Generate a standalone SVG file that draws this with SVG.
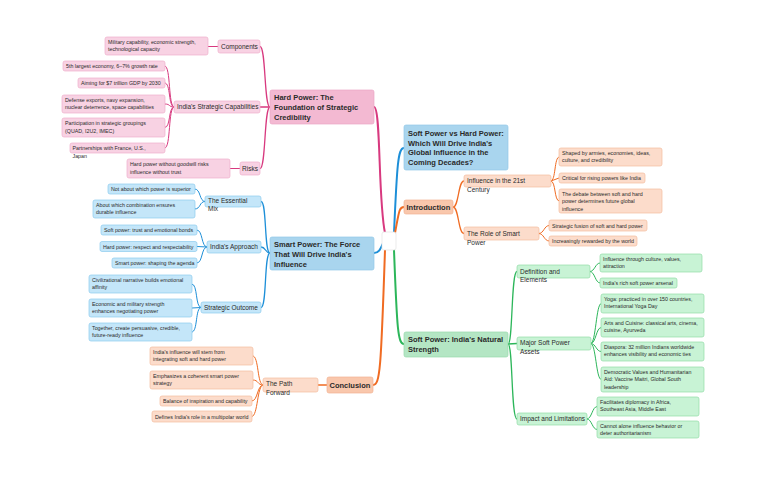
<svg xmlns="http://www.w3.org/2000/svg" width="768" height="489" viewBox="0 0 768 489">
<style>
text{font-family:"Liberation Sans",Arial,sans-serif;fill:#2a2a2a}
.lf{font-size:5.3px}
.sb{font-size:6.5px}
.mn{font-size:7.5px;font-weight:bold}
rect{rx:2;ry:2;stroke-width:0.7}
.pm{fill:#f3b9d2;stroke:#eba6c5}
.pl{fill:#f8d2e3;stroke:#efb0cc}
.bm{fill:#a9d5ee;stroke:#92c8e8}
.bbl{fill:#c4e6f9;stroke:#8dcbee}
.om{fill:#f9c7ac;stroke:#f2b394}
.ol{fill:#fcdccb;stroke:#f4bd9f}
.gm{fill:#b4e6c4;stroke:#98d9ad}
.gl{fill:#c8f3d5;stroke:#92dca8}
.c{fill:none;stroke-linecap:round}
.cp{stroke:#d8397f}
.cb{stroke:#1d8fd8}
.co{stroke:#f06b22}
.cg{stroke:#2cb65a}
.w2{stroke-width:2}
.w1{stroke-width:1.3}
.w0{stroke-width:1}
</style>

<g id="connectors">
<!-- center to main -->
<path class="c cp w2" d="M374,107 C381,107 378,200 385,233"/>
<path class="c cb w2" d="M384,241 C380,250 379,253 374,253"/>
<path class="c co w2" d="M385,250 C381,370 380,385 373,385"/>
<path class="c cb w2" d="M394,233 C397,165 398,148 404,148"/>
<path class="c co w2" d="M395,233 C399,212 399,207 404,207"/>
<path class="c cg w2" d="M394,250 C397,330 398,344 404,344"/>
<!-- hard power -->
<path class="c cp w1" d="M270,107 C264,107 266,46.5 260,46.5"/>
<path class="c cp w1" d="M270,107 L260,107"/>
<path class="c cp w1" d="M270,107 C264,107 266,168.5 260,168.5"/>
<path class="c cp w0" d="M218,46.5 L208,46.5"/>
<path class="c cp w0" d="M174,107 C168,107 171,66 165,66"/>
<path class="c cp w0" d="M174,107 C168,107 171,83 165,83"/>
<path class="c cp w0" d="M174,107 C168,107 171,104 165,104"/>
<path class="c cp w0" d="M174,107 C168,107 171,127.5 165,127.5"/>
<path class="c cp w0" d="M174,107 C168,107 171,148 165,148"/>
<path class="c cp w0" d="M240,168.5 L230,168.5"/>
<!-- smart power -->
<path class="c cb w1" d="M270,253 C264,253 267,201.5 261,201.5"/>
<path class="c cb w1" d="M270,253 C265,253 266,247 261,247"/>
<path class="c cb w1" d="M270,253 C264,253 267,307.5 261,307.5"/>
<path class="c cb w0" d="M205,201.5 C199,201.5 201,189 195,189"/>
<path class="c cb w0" d="M205,201.5 C199,201.5 201,209 195,209"/>
<path class="c cb w0" d="M207,247 C201,247 203,230 197,230"/>
<path class="c cb w0" d="M207,247 L197,246.5"/>
<path class="c cb w0" d="M207,247 C201,247 203,263 197,263"/>
<path class="c cb w0" d="M201,307.5 C195,307.5 198,284 192,284"/>
<path class="c cb w0" d="M201,307.5 L192,308"/>
<path class="c cb w0" d="M201,307.5 C195,307.5 198,332 192,332"/>
<!-- conclusion -->
<path class="c co w1" d="M327,385 L318,385"/>
<path class="c co w0" d="M263,385 C257,385 259,356 253,356"/>
<path class="c co w0" d="M263,385 C257,385 259,380 253,380"/>
<path class="c co w0" d="M263,385 C257,385 258,401 252,401"/>
<path class="c co w0" d="M263,385 C257,385 258,416.5 252,416.5"/>
<!-- introduction -->
<path class="c co w1" d="M453,207 C459,207 458,181 464,181"/>
<path class="c co w1" d="M453,207 C459,207 458,233.5 464,233.5"/>
<path class="c co w0" d="M551,181 C556,181 554,157 559,157"/>
<path class="c co w0" d="M551,181 L559,178"/>
<path class="c co w0" d="M551,181 C556,181 554,201 559,201"/>
<path class="c co w0" d="M539,233.5 C544,233.5 544,225.5 549,225.5"/>
<path class="c co w0" d="M539,233.5 C544,233.5 544,241 549,241"/>
<!-- soft power -->
<path class="c cg w1" d="M508,344 C513,344 511,271.5 517,271.5"/>
<path class="c cg w1" d="M508,344 L517,343.5"/>
<path class="c cg w1" d="M508,344 C513,344 511,419 517,419"/>
<path class="c cg w0" d="M590,271.5 C595,271.5 595,263 600,263"/>
<path class="c cg w0" d="M590,271.5 C595,271.5 595,283 600,283"/>
<path class="c cg w0" d="M591,343.5 C596,343.5 596,303.5 601,303.5"/>
<path class="c cg w0" d="M591,343.5 C596,343.5 596,327.5 601,327.5"/>
<path class="c cg w0" d="M591,343.5 C596,343.5 596,351.5 601,351.5"/>
<path class="c cg w0" d="M591,343.5 C596,343.5 596,379.5 601,379.5"/>
<path class="c cg w0" d="M587,419 C592,419 592,406.5 597,406.5"/>
<path class="c cg w0" d="M587,419 C592,419 592,429.5 597,429.5"/>
</g>

<g id="center"><rect x="382" y="232" width="14" height="18" style="fill:#ffffff;stroke:#e2e2e2"/></g>

<g id="hard-power"><rect class="pm" x="270" y="90" width="104" height="34"/>
<text class="mn" x="274" y="99.5">Hard Power: The</text><text class="mn" x="274" y="109.8">Foundation of Strategic</text><text class="mn" x="274" y="120">Credibility</text></g>
<g id="components"><rect class="pl" x="218" y="40" width="42" height="13"/><text class="sb" x="221" y="49">Components</text></g>
<g id="components-leaf"><rect class="pl" x="105" y="37" width="103" height="18"/><text class="lf" x="108" y="43.8">Military capability, economic strength,</text><text class="lf" x="108" y="51.4">technological capacity</text></g>
<g id="isc"><rect class="pl" x="174" y="101" width="86" height="12"/><text class="sb" x="177" y="109.3">India's Strategic Capabilities</text></g>
<g id="isc-1"><rect class="pl" x="63" y="61" width="102" height="10"/><text class="lf" x="66" y="68">5th largest economy, 6–7% growth rate</text></g>
<g id="isc-2"><rect class="pl" x="78" y="78" width="87" height="10"/><text class="lf" x="81" y="85">Aiming for $7 trillion GDP by 2030</text></g>
<g id="isc-3"><rect class="pl" x="62" y="95" width="103" height="18"/><text class="lf" x="65" y="101.8">Defense exports, navy expansion,</text><text class="lf" x="65" y="109.4">nuclear deterrence, space capabilities</text></g>
<g id="isc-4"><rect class="pl" x="62" y="118" width="103" height="19"/><text class="lf" x="65" y="125">Participation in strategic groupings</text><text class="lf" x="65" y="132.6">(QUAD, I2U2, IMEC)</text></g>
<g id="isc-5"><rect class="pl" x="70" y="143" width="95" height="10"/><text class="lf" x="72.5" y="150">Partnerships with France, U.S.,</text><text class="lf" x="72.5" y="157.6">Japan</text></g>
<g id="risks"><rect class="pl" x="240" y="162" width="20" height="13"/><text class="sb" x="242" y="171">Risks</text></g>
<g id="risks-leaf"><rect class="pl" x="127" y="159" width="103" height="19"/><text class="lf" x="130" y="166">Hard power without goodwill risks</text><text class="lf" x="130" y="173.6">influence without trust</text></g>

<g id="smart-power"><rect class="bm" x="270" y="237" width="104" height="33"/>
<text class="mn" x="274" y="247">Smart Power: The Force</text><text class="mn" x="274" y="257">That Will Drive India's</text><text class="mn" x="274" y="267">Influence</text></g>
<g id="essential-mix"><rect class="bbl" x="205" y="196" width="56" height="11"/><text class="sb" x="208" y="203.2">The Essential</text><text class="sb" x="208" y="211">Mix</text></g>
<g id="em-1"><rect class="bbl" x="108" y="184" width="87" height="10"/><text class="lf" x="111" y="191">Not about which power is superior</text></g>
<g id="em-2"><rect class="bbl" x="93" y="200" width="102" height="18"/><text class="lf" x="96" y="206.8">About which combination ensures</text><text class="lf" x="96" y="214.4">durable influence</text></g>
<g id="approach"><rect class="bbl" x="207" y="241" width="54" height="12"/><text class="sb" x="210" y="249.3">India's Approach</text></g>
<g id="ap-1"><rect class="bbl" x="101" y="225" width="96" height="10"/><text class="lf" x="104" y="232">Soft power: trust and emotional bonds</text></g>
<g id="ap-2"><rect class="bbl" x="100" y="241.5" width="97" height="10"/><text class="lf" x="103" y="248.5">Hard power: respect and respectability</text></g>
<g id="ap-3"><rect class="bbl" x="112" y="258" width="85" height="10"/><text class="lf" x="115" y="265">Smart power: shaping the agenda</text></g>
<g id="outcome"><rect class="bbl" x="201" y="302" width="60" height="11"/><text class="sb" x="204" y="309.8">Strategic Outcome</text></g>
<g id="oc-1"><rect class="bbl" x="89" y="275" width="103" height="18"/><text class="lf" x="92" y="281.8">Civilizational narrative builds emotional</text><text class="lf" x="92" y="289.4">affinity</text></g>
<g id="oc-2"><rect class="bbl" x="89" y="299" width="103" height="18"/><text class="lf" x="92" y="305.8">Economic and military strength</text><text class="lf" x="92" y="313.4">enhances negotiating power</text></g>
<g id="oc-3"><rect class="bbl" x="89" y="323" width="103" height="18"/><text class="lf" x="92" y="329.8">Together, create persuasive, credible,</text><text class="lf" x="92" y="337.4">future-ready influence</text></g>

<g id="conclusion"><rect class="om" x="327" y="377" width="46" height="16"/><text class="mn" x="329.5" y="388">Conclusion</text></g>
<g id="path-forward"><rect class="ol" x="263" y="378" width="55" height="14"/><text class="sb" x="266" y="385.5">The Path</text><text class="sb" x="266" y="395">Forward</text></g>
<g id="pf-1"><rect class="ol" x="150" y="347" width="103" height="18"/><text class="lf" x="153" y="353.8">India's influence will stem from</text><text class="lf" x="153" y="361.4">integrating soft and hard power</text></g>
<g id="pf-2"><rect class="ol" x="150" y="371" width="103" height="18"/><text class="lf" x="153" y="377.8">Emphasizes a coherent smart power</text><text class="lf" x="153" y="385.4">strategy</text></g>
<g id="pf-3"><rect class="ol" x="160" y="396" width="92" height="10"/><text class="lf" x="163" y="403">Balance of inspiration and capability</text></g>
<g id="pf-4"><rect class="ol" x="152" y="411" width="100" height="11"/><text class="lf" x="155" y="418.5">Defines India's role in a multipolar world</text></g>

<g id="title"><rect class="bm" x="404" y="125" width="104" height="45"/>
<text class="mn" x="408" y="136">Soft Power vs Hard Power:</text><text class="mn" x="408" y="145.7">Which Will Drive India's</text><text class="mn" x="408" y="155.4">Global Influence in the</text><text class="mn" x="408" y="165">Coming Decades?</text></g>

<g id="introduction"><rect class="om" x="404" y="200" width="49" height="14"/><text class="mn" x="406.5" y="209.8">Introduction</text></g>
<g id="influence-21"><rect class="ol" x="464" y="175" width="87" height="12"/><text class="sb" x="467" y="183">Influence in the 21st</text><text class="sb" x="467" y="191.5">Century</text></g>
<g id="in-1"><rect class="ol" x="559" y="148" width="103" height="18"/><text class="lf" x="562" y="154.8">Shaped by armies, economies, ideas,</text><text class="lf" x="562" y="162.4">culture, and credibility</text></g>
<g id="in-2"><rect class="ol" x="559" y="173" width="86" height="10"/><text class="lf" x="562" y="180">Critical for rising powers like India</text></g>
<g id="in-3"><rect class="ol" x="559" y="189" width="103" height="24"/><text class="lf" x="562" y="195.5">The debate between soft and hard</text><text class="lf" x="562" y="203">power determines future global</text><text class="lf" x="562" y="210.5">influence</text></g>
<g id="role-smart"><rect class="ol" x="464" y="227" width="75" height="13"/><text class="sb" x="467" y="235.5">The Role of Smart</text><text class="sb" x="467" y="244.5">Power</text></g>
<g id="rs-1"><rect class="ol" x="549" y="220" width="98" height="11"/><text class="lf" x="552" y="227.5">Strategic fusion of soft and hard power</text></g>
<g id="rs-2"><rect class="ol" x="549" y="236" width="88" height="10"/><text class="lf" x="552" y="243">Increasingly rewarded by the world</text></g>

<g id="soft-power"><rect class="gm" x="404" y="332" width="104" height="25"/><text class="mn" x="408" y="342">Soft Power: India's Natural</text><text class="mn" x="408" y="352">Strength</text></g>
<g id="definition"><rect class="gl" x="517" y="265" width="73" height="13"/><text class="sb" x="520" y="273.5">Definition and</text><text class="sb" x="520" y="281.8">Elements</text></g>
<g id="de-1"><rect class="gl" x="600" y="254" width="102" height="18"/><text class="lf" x="603" y="260.8">Influence through culture, values,</text><text class="lf" x="603" y="268.4">attraction</text></g>
<g id="de-2"><rect class="gl" x="600" y="278" width="77" height="10"/><text class="lf" x="603" y="285">India's rich soft power arsenal</text></g>
<g id="assets"><rect class="gl" x="517" y="337" width="74" height="13"/><text class="sb" x="520" y="345">Major Soft Power</text><text class="sb" x="520" y="353.5">Assets</text></g>
<g id="as-1"><rect class="gl" x="601" y="294" width="103" height="19"/><text class="lf" x="604" y="300.8">Yoga: practiced in over 150 countries,</text><text class="lf" x="604" y="308.4">International Yoga Day</text></g>
<g id="as-2"><rect class="gl" x="601" y="318" width="103" height="19"/><text class="lf" x="604" y="324.8">Arts and Cuisine: classical arts, cinema,</text><text class="lf" x="604" y="332.4">cuisine, Ayurveda</text></g>
<g id="as-3"><rect class="gl" x="601" y="342" width="103" height="19"/><text class="lf" x="604" y="348.8">Diaspora: 32 million Indians worldwide</text><text class="lf" x="604" y="356.4">enhances visibility and economic ties</text></g>
<g id="as-4"><rect class="gl" x="601" y="367" width="103" height="25"/><text class="lf" x="604" y="373.5">Democratic Values and Humanitarian</text><text class="lf" x="604" y="381">Aid: Vaccine Maitri, Global South</text><text class="lf" x="604" y="388.5">leadership</text></g>
<g id="impact"><rect class="gl" x="517" y="413" width="70" height="12"/><text class="sb" x="520" y="421">Impact and Limitations</text></g>
<g id="im-1"><rect class="gl" x="597" y="397" width="102" height="19"/><text class="lf" x="600" y="403.8">Facilitates diplomacy in Africa,</text><text class="lf" x="600" y="411.4">Southeast Asia, Middle East</text></g>
<g id="im-2"><rect class="gl" x="597" y="421" width="102" height="17"/><text class="lf" x="600" y="427.6">Cannot alone influence behavior or</text><text class="lf" x="600" y="435">deter authoritarianism</text></g>
</svg>
